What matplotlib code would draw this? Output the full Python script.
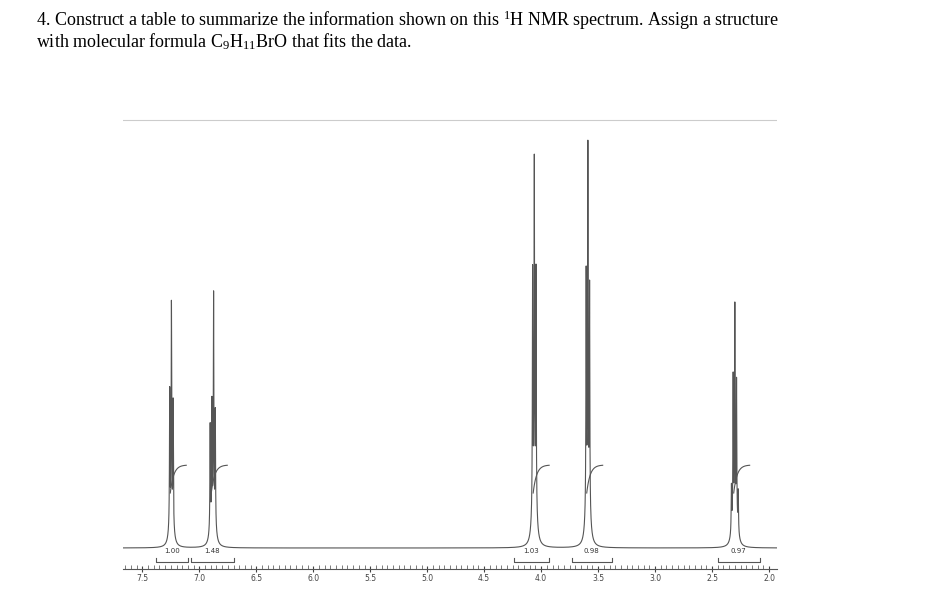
import numpy as np
import matplotlib.pyplot as plt

plt.rcParams['mathtext.fontset'] = 'custom'
plt.rcParams['mathtext.rm'] = 'Liberation Serif'
plt.rcParams['mathtext.it'] = 'Liberation Serif:italic'

# peak lines (ppm, height above baseline)
line_ppm = [7.26, 7.245, 7.23, 6.905, 6.89, 6.875, 6.86,
            4.075, 4.06, 4.045, 3.605, 3.59, 3.575,
            2.33, 2.315, 2.30, 2.285, 2.27]
line_h = [134, 214, 123, 103, 118, 222, 113,
          238, 337, 238, 235, 350, 222,
          45, 145, 210, 140, 40]

# integration regions
int_labels = ['1.00', '1.48', '1.03', '0.98', '0.97']
int_start = [7.38, 7.07, 4.24, 3.73, 2.45]
int_end = [7.10, 6.70, 3.93, 3.38, 2.08]
int_center = [7.245, 6.885, 4.06, 3.59, 2.30]

ticks = [7.5, 7.0, 6.5, 6.0, 5.5, 5.0, 4.5, 4.0, 3.5, 3.0, 2.5, 2.0]

x = np.linspace(7.7, 1.9, 12000)
w = 0.0025
y = np.zeros_like(x)
for p, h in zip(line_ppm, line_h):
    y += h * w**2 / ((x - p)**2 + w**2)
    y += 0.08 * h * 0.015**2 / ((x - p)**2 + 0.015**2)

fig = plt.figure(figsize=(9.27, 6.05), dpi=100)
fig.text(36/927, 1 - 20/605,
         "4. Construct a table to summarize the information shown on this $^{1}$H NMR spectrum. Assign a structure",
         fontsize=13, family='Liberation Serif', va='center')
fig.text(36/927, 1 - 42/605,
         "with molecular formula C$_{9}$H$_{11}$BrO that fits the data.",
         fontsize=13, family='Liberation Serif', va='center')

ax = fig.add_axes([123/927, 15/605, 654/927, 475/605])
ax.set_xlim(7.67, 1.93)
ax.set_ylim(-42, 433)
ax.plot(x, y, color='#555555', lw=0.8)
ax.plot([7.67, 1.93], [428, 428], color='#cccccc', lw=0.8)

# integral curves
for c in int_center:
    xi = np.linspace(c - 0.01, c + 0.13, 100)
    yi = 55 + 28 * (1 - np.exp(-(xi - xi[0]) / 0.03))
    ax.plot(-xi + 2 * c, yi, color='#555555', lw=0.8)

# integral brackets
for lab, s, e in zip(int_labels, int_start, int_end):
    ax.plot([s, s, e, e], [-10, -14, -14, -10], color='#555555', lw=0.8)
    ax.text((s + e) / 2, -6, lab, fontsize=5, ha='center', va='bottom', color='#333333')

for s in ['top', 'left', 'right']:
    ax.spines[s].set_visible(False)
ax.spines['bottom'].set_position(('data', -21))
ax.spines['bottom'].set_color('#555555')
ax.set_yticks([])
ax.set_xticks(ticks)
ax.set_xticks(np.arange(2.0, 7.66, 0.05), minor=True)
ax.tick_params(axis='x', which='major', direction='inout', length=5, labelsize=5.5, pad=1, colors='#444444')
ax.tick_params(axis='x', which='minor', direction='in', length=3, colors='#666666')
ax.set_xticklabels([f'{t:.1f}' for t in ticks])

fig.savefig('out.png', dpi=100)
